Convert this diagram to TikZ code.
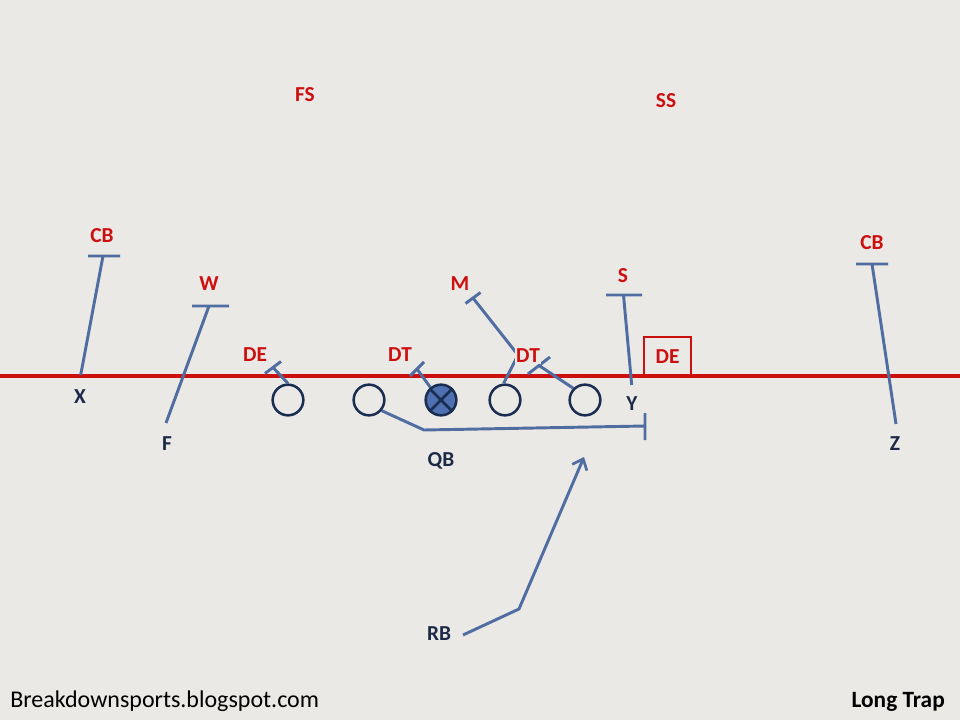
\documentclass[tikz,border=0pt]{standalone}
\usepackage{fontspec}
\setmainfont{Carlito}
\usetikzlibrary{arrows.meta}
\definecolor{bg}{RGB}{235,233,230}
\definecolor{losred}{RGB}{204,16,16}
\definecolor{routeblue}{RGB}{79,109,160}
\definecolor{navy}{RGB}{28,42,72}
\definecolor{ringnavy}{RGB}{25,45,80}
\definecolor{fillblue}{RGB}{79,112,176}
\tikzset{
  deflabel/.style={text=losred, font=\bfseries\fontsize{16}{16}\selectfont, inner sep=1pt},
  offlabel/.style={text=navy, font=\bfseries\fontsize{16}{16}\selectfont, inner sep=1pt},
  lineman/.style={circle, draw=ringnavy, line width=1.9pt, minimum size=23pt, inner sep=0pt},
  route/.style={draw=routeblue, line width=2.2pt},
}
\begin{document}
\begin{tikzpicture}[x=0.75pt, y=-0.75pt]
\fill[bg] (0,0) rectangle (960,720);
\useasboundingbox (0,0) rectangle (960,720);

% DE box (drawn before the line of scrimmage)
\node[draw=losred, line width=1.6pt, minimum width=35pt, minimum height=30pt, inner sep=0pt,
      text=losred, font=\bfseries\fontsize{16}{16}\selectfont] (deR) at (667.5,357) {DE};

% line of scrimmage
\coordinate (losL) at (0,376);
\coordinate (losR) at (960,376);
\draw[losred, line width=2.7pt] (losL) -- (losR);

% linemen
\node[lineman] (c1) at (288,400) {};
\node[lineman] (c2) at (369,400) {};
\node[lineman, fill=fillblue] (c3) at (441,400) {};
\node[lineman] (c4) at (505,400) {};
\node[lineman] (c5) at (585,400) {};
\draw[ringnavy, line width=1.9pt] (c3.45) -- (c3.225) (c3.135) -- (c3.315);

% offensive labels
\node[offlabel] (X) at (80,397) {X};
\node[offlabel] (F) at (167,444) {F};
\node[offlabel] (Y) at (632,404) {Y};
\node[offlabel] (Z) at (895,444) {Z};
\node[offlabel] (QB) at (441,461) {QB};
\node[offlabel] (RB) at (439,634) {RB};

% defensive labels
\node[deflabel] (FS) at (305,95) {FS};
\node[deflabel] (SS) at (666,101) {SS};
\node[deflabel] (CBL) at (102,236) {CB};
\node[deflabel] (W) at (209,284) {W};
\node[deflabel] (DEL) at (255,355) {DE};
\node[deflabel] (DTL) at (400,355) {DT};
\node[deflabel] (M) at (460,284) {M};
\node[deflabel] (S) at (623,276) {S};
\node[deflabel] (CBR) at (872,243) {CB};

% receiver routes (horizontal T bars)
\coordinate (xs) at (80.7,375);  \coordinate (xe) at (103,256);
\coordinate (xb1) at (88,256);   \coordinate (xb2) at (120,256);
\coordinate (fs) at (166,423);   \coordinate (fe) at (209,306);
\coordinate (fb1) at (192,306);  \coordinate (fb2) at (229,306);
\coordinate (ys) at (631.7,385); \coordinate (ye) at (623.5,295);
\coordinate (yb1) at (606,295);  \coordinate (yb2) at (642,295);
\coordinate (zs) at (896,424);   \coordinate (ze) at (872,264);
\coordinate (zb1) at (856,264);  \coordinate (zb2) at (888,264);
\draw[route] (xs) -- (xe) (xb1) -- (xb2);
\draw[route] (fs) -- (fe) (fb1) -- (fb2);
\draw[route] (ys) -- (ye) (yb1) -- (yb2);
\draw[route] (zs) -- (ze) (zb1) -- (zb2);

% line blocks
\coordinate (deb) at (273,367.5);
\coordinate (deb1) at (265,373.5); \coordinate (deb2) at (281,361.5);
\coordinate (dtlb) at (417,369);
\coordinate (dtlb1) at (410,376);  \coordinate (dtlb2) at (424,362);
\coordinate (mbend) at (518,355);
\coordinate (mb) at (473,298);
\coordinate (mb1) at (465.5,303.5); \coordinate (mb2) at (480.5,292.5);
\coordinate (dtrb) at (539,365.5);
\coordinate (dtrb1) at (528,374);  \coordinate (dtrb2) at (550,357);
\draw[route] (c1.north) -- (deb) (deb1) -- (deb2);
\draw[route] (c3.130) -- (dtlb) (dtlb1) -- (dtlb2);
\draw[route] (c4.95) -- (mbend) -- (mb) (mb1) -- (mb2);
\draw[route] (c5.135) -- (dtrb) (dtrb1) -- (dtrb2);

% pulling guard
\coordinate (pbend) at (424,430);
\coordinate (pend) at (645,426);
\coordinate (pb1) at (645,413);
\coordinate (pb2) at (645,440);
\draw[route] (c2.-40) -- (pbend) -- (pend) (pb1) -- (pb2);

% RB path
\coordinate (rbs) at (463,635);
\coordinate (rbbend) at (519,609);
\coordinate (rbend) at (584,457);
\draw[route, -{Straight Barb[length=7pt, width=12pt, line width=2pt]}] (rbs) -- (rbbend) -- (rbend);

% DT label covering the M block line
\node[deflabel, fill=bg] (DTR) at (528,356) {DT};

% footer
\node[anchor=base west, inner sep=0pt, text=black, font=\fontsize{18}{18}\selectfont] (site) at (10,707) {Breakdownsports.blogspot.com};
\node[anchor=base east, inner sep=0pt, text=black, font=\bfseries\fontsize{17.5}{17.5}\selectfont] (title) at (945,707) {Long Trap};
\end{tikzpicture}
\end{document}
